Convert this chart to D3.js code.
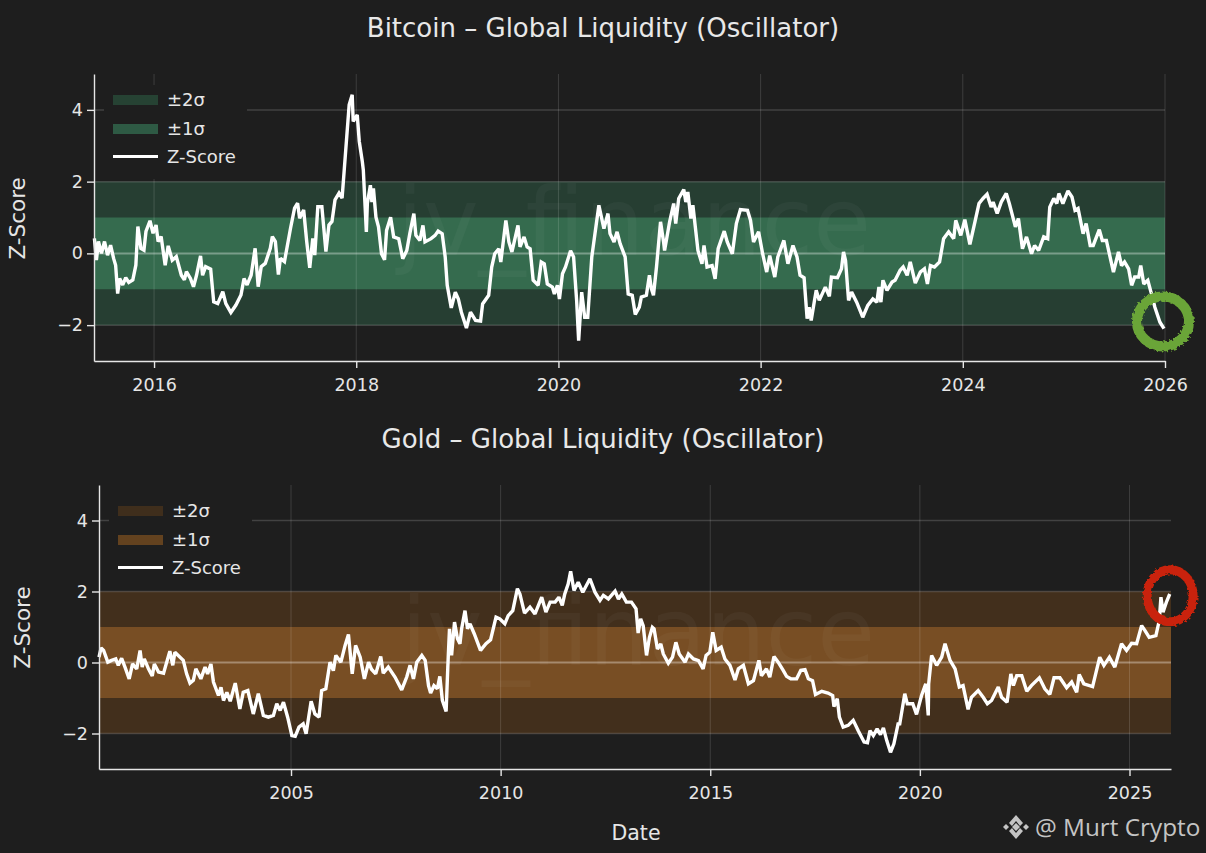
<!DOCTYPE html>
<html><head><meta charset="utf-8">
<script src="https://cdn.jsdelivr.net/npm/d3@7/dist/d3.min.js"></script>
<style>html,body{margin:0;padding:0;background:#1e1e1e}svg{display:block}</style>
</head><body><svg id="c" width="1206" height="853"></svg>
<script>
const btcYears=[2015.41,2015.43,2015.45,2015.48,2015.51,2015.54,2015.57,2015.60,2015.62,2015.64,2015.66,2015.69,2015.72,2015.75,2015.79,2015.82,2015.84,2015.87,2015.90,2015.92,2015.96,2015.99,2016.02,2016.04,2016.07,2016.11,2016.14,2016.18,2016.22,2016.27,2016.30,2016.32,2016.36,2016.39,2016.42,2016.46,2016.48,2016.51,2016.56,2016.59,2016.63,2016.68,2016.71,2016.76,2016.81,2016.86,2016.89,2016.92,2016.96,2017.00,2017.03,2017.06,2017.10,2017.15,2017.17,2017.20,2017.23,2017.25,2017.29,2017.35,2017.39,2017.42,2017.44,2017.48,2017.51,2017.54,2017.57,2017.59,2017.62,2017.66,2017.70,2017.73,2017.76,2017.79,2017.83,2017.86,2017.88,2017.93,2017.96,2017.97,2018.01,2018.03,2018.06,2018.07,2018.10,2018.11,2018.14,2018.155,2018.17,2018.195,2018.22,2018.25,2018.28,2018.30,2018.34,2018.37,2018.42,2018.46,2018.50,2018.53,2018.57,2018.59,2018.63,2018.66,2018.68,2018.74,2018.78,2018.81,2018.85,2018.88,2018.90,2018.94,2018.98,2019.01,2019.04,2019.09,2019.13,2019.18,2019.23,2019.25,2019.31,2019.34,2019.37,2019.41,2019.43,2019.48,2019.51,2019.54,2019.60,2019.62,2019.66,2019.69,2019.72,2019.75,2019.80,2019.83,2019.86,2019.89,2019.94,2019.96,2019.99,2020.01,2020.04,2020.07,2020.12,2020.15,2020.18,2020.20,2020.23,2020.26,2020.29,2020.33,2020.40,2020.45,2020.49,2020.51,2020.55,2020.58,2020.61,2020.66,2020.69,2020.73,2020.76,2020.80,2020.82,2020.87,2020.90,2020.92,2020.94,2020.97,2021.01,2021.04,2021.05,2021.10,2021.14,2021.16,2021.19,2021.24,2021.26,2021.28,2021.31,2021.33,2021.38,2021.42,2021.44,2021.47,2021.52,2021.55,2021.58,2021.64,2021.67,2021.72,2021.76,2021.80,2021.87,2021.90,2021.93,2021.98,2022.02,2022.06,2022.09,2022.14,2022.17,2022.23,2022.27,2022.32,2022.36,2022.39,2022.43,2022.46,2022.48,2022.50,2022.53,2022.55,2022.58,2022.64,2022.68,2022.70,2022.76,2022.80,2022.82,2022.84,2022.87,2022.90,2022.95,2023.01,2023.06,2023.11,2023.15,2023.17,2023.19,2023.21,2023.25,2023.30,2023.33,2023.38,2023.41,2023.45,2023.48,2023.53,2023.58,2023.62,2023.65,2023.68,2023.72,2023.77,2023.81,2023.86,2023.91,2023.93,2023.98,2024.02,2024.07,2024.12,2024.16,2024.20,2024.24,2024.28,2024.30,2024.34,2024.38,2024.43,2024.46,2024.52,2024.55,2024.59,2024.63,2024.68,2024.71,2024.75,2024.80,2024.84,2024.86,2024.90,2024.93,2024.95,2024.99,2025.04,2025.08,2025.11,2025.14,2025.19,2025.22,2025.26,2025.29,2025.35,2025.38,2025.42,2025.49,2025.54,2025.57,2025.60,2025.64,2025.67,2025.70,2025.74,2025.76,2025.79,2025.83,2025.87,2025.90,2025.95,2025.99];
const btcValues=[0.42,-0.19,0.33,0,0.33,-0.05,0.23,-0.14,-0.33,-1.12,-0.70,-0.88,-0.68,-0.81,-0.74,-0.33,0.75,0.14,0.09,0.61,0.91,0.56,0.79,0.33,0.47,-0.33,0.21,-0.19,-0.09,-0.61,-0.74,-0.51,-0.70,-0.93,-0.61,-0.07,-0.61,-0.37,-0.44,-1.35,-1.40,-1.07,-1.40,-1.65,-1.44,-1.16,-0.70,-0.88,-0.61,0.14,-0.93,-0.37,-0.28,0.14,0.47,0.33,-0.59,-0.14,-0.23,0.70,1.26,1.40,0.98,1.21,0.33,-0.40,0.42,-0.05,1.30,1.30,0.05,0.79,0.89,1.49,1.68,1.54,2.28,4.14,4.42,3.68,3.86,3.12,2.56,2.32,0.60,1.39,1.90,1.43,1.81,1.01,0.74,-0.01,-0.18,0.64,1.01,0.46,0.41,-0.15,0.08,0.55,1.11,0.50,0.36,0.78,0.32,0.41,0.50,0.62,0.55,-0.10,-0.89,-1.52,-1.08,-1.27,-1.64,-2.08,-1.64,-1.87,-1.89,-1.41,-1.17,-0.38,-0.01,0.13,-0.24,0.92,0.32,0.04,0.78,0.18,0.46,0.18,0.13,-0.75,-0.89,-0.24,-0.29,-0.85,-0.94,-1.13,-0.89,-1.27,-0.57,-0.38,0.07,-0.10,-1.31,-2.43,-1.08,-1.78,-1.78,-0.10,1.34,0.69,1.11,0.55,0.32,0.60,0.27,-0.10,-1.13,-1.17,-1.70,-1.50,-1.22,-1.17,-0.61,-0.99,-1.17,-0.38,0.88,0.32,0.08,0.88,1.39,0.83,1.53,1.78,1.43,1.71,0.97,1.34,0.08,-0.29,0.22,-0.38,-0.34,-0.71,0.13,0.62,0.32,-0.01,0.83,1.22,1.20,0.92,0.32,0.60,-0.01,-0.52,-0.06,-0.66,-0.10,0.36,-0.29,0.22,-0.10,-0.61,-0.68,-1.82,-1.50,-1.87,-1.36,-1.03,-1.31,-0.94,-1.20,-0.66,-0.68,-0.43,0.04,-0.20,-1.31,-1.08,-1.36,-1.78,-1.45,-1.27,-1.36,-0.94,-1.36,-0.75,-1.03,-0.80,-0.75,-0.47,-0.38,-0.61,-0.24,-0.83,-0.52,-0.43,-0.85,-0.34,-0.38,-0.24,0.41,0.60,0.41,0.92,0.50,0.94,0.25,0.88,1.39,1.53,1.65,1.29,1.43,1.11,1.43,1.67,1.39,0.74,0.97,0.13,0.46,-0.01,0.22,0.08,0.46,0.41,1.29,1.53,1.39,1.67,1.39,1.74,1.57,1.20,1.25,0.55,0.83,0.22,0.22,0.66,0.36,0.36,-0.52,0.04,-0.34,-0.24,-0.43,-0.89,-0.66,-0.66,-0.34,-0.85,-0.75,-1.17,-1.50,-1.92,-2.10];
const goldYears=[2000.42,2000.47,2000.53,2000.63,2000.72,2000.82,2000.88,2000.96,2001.04,2001.14,2001.22,2001.32,2001.40,2001.45,2001.50,2001.60,2001.69,2001.74,2001.84,2001.96,2002.11,2002.18,2002.23,2002.31,2002.43,2002.51,2002.59,2002.67,2002.73,2002.85,2002.95,2003.01,2003.09,2003.15,2003.27,2003.33,2003.39,2003.47,2003.55,2003.67,2003.78,2003.86,2003.97,2004.10,2004.22,2004.34,2004.46,2004.58,2004.66,2004.74,2004.82,2004.92,2005.02,2005.10,2005.19,2005.29,2005.36,2005.48,2005.57,2005.67,2005.73,2005.83,2005.93,2006.01,2006.07,2006.19,2006.29,2006.37,2006.46,2006.54,2006.65,2006.75,2006.85,2006.92,2007.02,2007.14,2007.20,2007.32,2007.48,2007.64,2007.76,2007.84,2007.92,2008.00,2008.12,2008.20,2008.28,2008.33,2008.41,2008.49,2008.55,2008.61,2008.70,2008.74,2008.78,2008.83,2008.90,2008.97,2009.03,2009.07,2009.15,2009.21,2009.27,2009.37,2009.52,2009.65,2009.76,2009.89,2009.98,2010.10,2010.18,2010.29,2010.40,2010.46,2010.57,2010.70,2010.82,2010.98,2011.08,2011.18,2011.30,2011.39,2011.47,2011.53,2011.61,2011.67,2011.75,2011.85,2011.96,2012.13,2012.25,2012.37,2012.45,2012.57,2012.73,2012.81,2012.89,2013.00,2013.12,2013.23,2013.28,2013.34,2013.40,2013.48,2013.55,2013.62,2013.66,2013.74,2013.82,2013.88,2014.00,2014.10,2014.18,2014.26,2014.40,2014.48,2014.60,2014.72,2014.83,2014.90,2014.99,2015.06,2015.14,2015.26,2015.35,2015.47,2015.59,2015.67,2015.79,2015.91,2016.03,2016.16,2016.22,2016.34,2016.42,2016.52,2016.62,2016.74,2016.82,2016.92,2017.06,2017.16,2017.26,2017.34,2017.44,2017.51,2017.66,2017.81,2017.92,2017.95,2018.03,2018.08,2018.17,2018.29,2018.41,2018.53,2018.67,2018.75,2018.81,2018.89,2018.98,2019.06,2019.13,2019.21,2019.30,2019.38,2019.48,2019.52,2019.64,2019.70,2019.83,2019.92,2020.04,2020.14,2020.20,2020.21,2020.28,2020.40,2020.52,2020.60,2020.72,2020.84,2020.94,2021.03,2021.15,2021.23,2021.39,2021.51,2021.61,2021.71,2021.87,2021.95,2022.08,2022.17,2022.23,2022.31,2022.43,2022.55,2022.66,2022.85,2022.98,2023.10,2023.20,2023.34,2023.50,2023.62,2023.74,2023.80,2023.91,2024.12,2024.29,2024.39,2024.52,2024.65,2024.81,2024.93,2025.05,2025.17,2025.29,2025.37,2025.47,2025.63,2025.71,2025.75,2025.80,2025.88,2025.96];
const goldValues=[0.15,0.41,0.34,0.01,0.06,0.10,-0.08,0.12,-0.13,-0.46,-0.04,-0.18,0.34,-0.13,0.10,-0.18,-0.38,-0.04,-0.27,-0.30,0.32,-0.08,0.29,0.20,0.06,-0.32,-0.58,-0.50,-0.18,-0.46,-0.13,-0.32,-0.04,-0.55,-0.93,-0.70,-1.07,-0.84,-1.09,-0.58,-1.31,-0.84,-0.79,-1.45,-0.88,-1.49,-1.54,-1.49,-1.16,-1.35,-1.12,-1.54,-2.06,-2.08,-1.82,-1.73,-2.01,-1.09,-1.45,-1.54,-0.79,-0.74,0.01,-0.23,0.20,0.01,0.48,0.79,-0.32,0.48,0.15,-0.46,0.01,-0.19,-0.32,0.17,-0.30,-0.13,-0.41,-0.77,-0.41,-0.08,-0.46,0.01,0.20,0.06,-0.65,-0.86,-0.65,-0.74,-0.39,-1.07,-1.38,-0.13,0.95,0.20,1.14,0.67,0.53,0.95,1.46,0.95,1.09,0.81,0.34,0.53,0.64,1.28,1.23,1.09,1.32,1.46,2.08,1.93,1.39,1.56,1.37,1.84,1.42,1.70,1.70,1.84,1.61,1.93,2.21,2.57,2.03,2.26,1.98,2.36,1.98,1.75,1.89,1.79,2.01,1.79,1.93,1.70,1.70,1.51,0.83,1.23,1.04,0.20,0.71,0.99,0.95,0.38,0.52,0.24,-0.02,0.15,0.57,0.24,0.01,0.24,0.10,0.05,-0.18,0.20,0.29,0.85,0.34,0.43,0.10,-0.08,-0.49,-0.18,-0.08,-0.60,-0.51,0.06,-0.37,-0.18,-0.41,0.17,0.01,-0.22,-0.39,-0.46,-0.46,-0.22,-0.20,-0.46,-0.51,-0.90,-0.81,-0.86,-0.93,-1.24,-1.02,-1.54,-1.82,-1.77,-1.63,-1.92,-2.24,-2.26,-1.92,-2.06,-1.87,-2.03,-1.84,-2.20,-2.53,-2.29,-1.73,-1.73,-0.88,-1.16,-1.16,-1.46,-0.93,-0.60,-1.49,-0.60,0.20,-0.08,0.15,0.53,0.06,-0.18,-0.69,-0.65,-1.32,-0.98,-0.79,-0.98,-1.16,-1.07,-0.69,-0.98,-1.12,-0.32,-0.65,-0.37,-0.37,-0.81,-0.65,-0.43,-0.74,-0.90,-0.43,-0.43,-0.71,-0.55,-0.84,-0.34,-0.60,-0.68,0.15,-0.08,0.15,-0.13,0.53,0.34,0.54,0.53,1.04,0.90,0.71,0.76,1.18,1.84,1.42,1.70,1.93];
const btcXTicks=[2016,2018,2020,2022,2024,2026];
const goldXTicks=[2005,2010,2015,2020,2025];
const yTicks=[-2,0,2,4];
const legendLabels=["±2σ","±1σ","Z-Score"];

const svg=d3.select("#c"), FONT="'DejaVu Sans',sans-serif";
svg.append("rect").attr("width",1206).attr("height",853).attr("fill","#1e1e1e");
const defs=svg.append("defs");
const f=defs.append("filter").attr("id","rough").attr("x","-20%").attr("y","-20%").attr("width","140%").attr("height","140%");
f.append("feTurbulence").attr("type","fractalNoise").attr("baseFrequency",0.35).attr("numOctaves",2).attr("seed",3);
f.append("feDisplacementMap").attr("in","SourceGraphic").attr("scale",4);

function panel(o){
  const x=d3.scaleLinear().domain(o.xDom).range([o.l,o.r]);
  const y=d3.scaleLinear().domain([-3,5]).range([o.b,o.t]);
  const g=svg.append("g");
  g.append("rect").attr("x",o.l).attr("width",o.r-o.l).attr("y",y(2)).attr("height",y(-2)-y(2)).attr("fill",o.c2);
  g.append("rect").attr("x",o.l).attr("width",o.r-o.l).attr("y",y(1)).attr("height",y(-1)-y(1)).attr("fill",o.c1);
  g.selectAll(".vg").data(o.xTicks).join("line").attr("x1",d=>x(d)).attr("x2",d=>x(d)).attr("y1",o.t).attr("y2",o.b).attr("stroke","#fff").attr("stroke-opacity",0.14).attr("stroke-width",1);
  g.selectAll(".hg").data(yTicks).join("line").attr("x1",o.l).attr("x2",o.r).attr("y1",d=>y(d)).attr("y2",d=>y(d)).attr("stroke","#fff").attr("stroke-width",d=>d===0?2:1.5).attr("stroke-opacity",d=>d===0?0.34:0.16);
  g.append("text").attr("x",o.wmX).attr("y",y(0)+2).attr("text-anchor","middle").attr("font-family",FONT).attr("font-size",94).attr("fill","#fff").attr("fill-opacity",0.035).text("jv_finance");
  const line=d3.line().x((d,i)=>x(o.years[i])).y(d=>y(d));
  g.append("path").datum(o.values).attr("d",line).attr("fill","none").attr("stroke","#fff").attr("stroke-width",3.4).attr("stroke-linejoin","miter").attr("stroke-miterlimit",2);
  const ax=g.append("g").attr("transform",`translate(0,${o.b})`).call(d3.axisBottom(x).tickValues(o.xTicks).tickFormat(d3.format("d")).tickSize(7).tickSizeOuter(0).tickPadding(11));
  const ay=g.append("g").attr("transform",`translate(${o.l},0)`).call(d3.axisLeft(y).tickValues(yTicks).tickFormat(d=>d<0?"−"+(-d):d).tickSize(7).tickSizeOuter(0).tickPadding(4));
  [ax,ay].forEach(a=>{a.selectAll("path,line").attr("stroke","#e6e6e6").attr("stroke-width",1.4);a.selectAll("text").attr("fill","#e6e6e6").attr("font-family",FONT).attr("font-size",17.5);});
  g.append("text").attr("x",603).attr("y",o.t-37).attr("text-anchor","middle").attr("font-family",FONT).attr("font-size",o.titleSize).attr("fill","#e8e8e8").text(o.title);
  g.append("text").attr("transform",`translate(${o.l-69},${y(0)-35}) rotate(-90)`).attr("text-anchor","middle").attr("font-family",FONT).attr("font-size",21.5).attr("fill","#e6e6e6").text("Z-Score");
  // legend
  const L=g.append("g");
  L.append("rect").attr("x",o.l+10).attr("y",o.t+11).attr("width",143).attr("height",94).attr("fill","#1e1e1e");
  const lx=o.l+19, rows=[o.t+26,o.t+55,o.t+82.5];
  L.append("rect").attr("x",lx).attr("y",rows[0]-5).attr("width",45).attr("height",10).attr("fill",o.s2);
  L.append("rect").attr("x",lx).attr("y",rows[1]-5).attr("width",45).attr("height",10).attr("fill",o.s1);
  L.append("line").attr("x1",lx).attr("x2",lx+45).attr("y1",rows[2]).attr("y2",rows[2]).attr("stroke","#fff").attr("stroke-width",3);
  L.selectAll("text").data(legendLabels).join("text").attr("x",lx+54).attr("y",(d,i)=>rows[i]+6).attr("font-family",FONT).attr("font-size",18).attr("fill","#e6e6e6").text(d=>d);
  // hand-drawn ring
  g.append("ellipse").attr("cx",x(o.ring[0])).attr("cy",y(o.ring[1])).attr("rx",o.ring[2]).attr("ry",o.ring[3]).attr("fill","none").attr("stroke",o.ring[4]).attr("stroke-width",o.ring[5]).attr("filter","url(#rough)");
}
panel({title:"Bitcoin – Global Liquidity (Oscillator)",titleSize:26,xDom:[2015.406,2026],l:94,r:1165,t:74,b:361,years:btcYears,values:btcValues,xTicks:btcXTicks,c2:"#263e32",c1:"#356b4e",s2:"#264233",s1:"#2e5a44",wmX:634,ring:[2025.98,-1.9,26,25,"#6ba538",10]});
panel({title:"Gold – Global Liquidity (Oscillator)",titleSize:26,xDom:[2000.42,2025.99],l:99,r:1171,t:485,b:769,years:goldYears,values:goldValues,xTicks:goldXTicks,c2:"#422f1c",c1:"#784e24",s2:"#3f2e1c",s1:"#63421f",wmX:638,ring:[2025.97,1.88,23,26,"#c92408",9]});
svg.append("text").attr("x",636).attr("y",840).attr("text-anchor","middle").attr("font-family",FONT).attr("font-size",20.5).attr("fill","#e6e6e6").text("Date");
// credit
const cg=svg.append("g").attr("transform","translate(1016,827)").attr("fill","#c4c4c4");
[[0,0,4],[-10,0,3],[10,0,3]].forEach(d=>cg.append("path").attr("d",`M${d[0]-d[2]},${d[1]}L${d[0]},${d[1]-d[2]}L${d[0]+d[2]},${d[1]}L${d[0]},${d[1]+d[2]}Z`));
cg.append("path").attr("d","M-7,-4L0,-12L7,-4L4,-1L0,-6L-4,-1Z");
cg.append("path").attr("d","M-7,4L0,12L7,4L4,1L0,6L-4,1Z");
svg.append("text").attr("x",1035).attr("y",836).attr("font-family","'Open Sans',sans-serif").attr("font-size",24.3).attr("fill","#c4c4c4").text("@ Murt Crypto");
</script></body></html>
